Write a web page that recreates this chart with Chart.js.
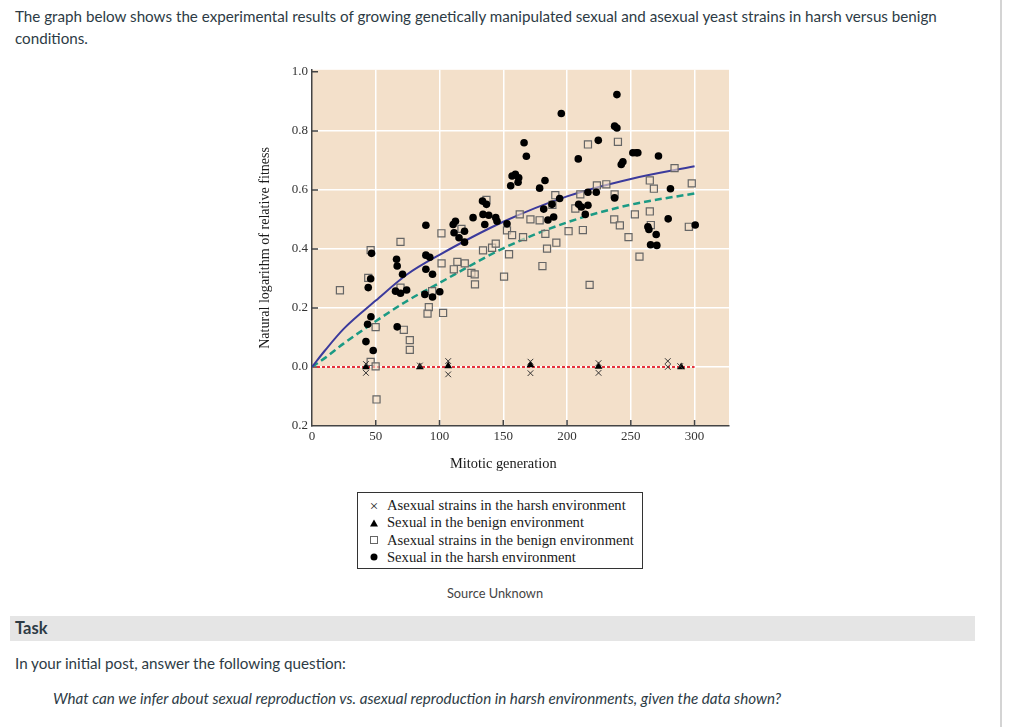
<!DOCTYPE html>
<html>
<head>
<meta charset="utf-8">
<script src="https://cdn.jsdelivr.net/npm/chart.js@4.4.0/dist/chart.umd.min.js"></script>
<style>
  body{margin:0;width:1024px;height:727px;overflow:hidden;background:#fff;font-family:Lato,sans-serif;color:#2d3b45;position:relative}
  .intro{position:absolute;left:15px;top:5px;font-size:15.2px;line-height:22px}
  #wrap{position:absolute;left:250px;top:58px;width:490px;height:420px}
  #legend{position:absolute;left:357px;top:492px;width:284px;height:75px;border:1px solid #333;font-family:'Liberation Serif',serif;font-size:14.6px;color:#1a1a1a}
  #legend .row{position:absolute;left:0;height:17px;line-height:17px;white-space:nowrap}
  #legend .sym{position:absolute;left:16px;top:50%;transform:translate(-50%,-50%)}
  #legend .txt{position:absolute;left:29px;top:0}
  .s-cross{font-size:15px;line-height:15px;color:#222}
  .s-tri{width:0;height:0;border-left:4px solid transparent;border-right:4px solid transparent;border-bottom:7px solid #000}
  .s-rect{width:6px;height:6px;border:1px solid #666}
  .s-dot{width:7px;height:7px;border-radius:50%;background:#000}
  .source{position:absolute;left:395px;top:585px;width:200px;text-align:center;font-size:12.8px;color:#444}
  .task{position:absolute;left:10px;top:616px;width:965px;height:25px;background:#e5e5e5;font-weight:bold;font-size:16.5px;line-height:25px;padding-left:5px;box-sizing:border-box;color:#2d3b45}
  .q1{position:absolute;left:15px;top:654px;font-size:15.2px}
  .q2{position:absolute;left:53px;top:689px;font-size:15.2px;font-style:italic}
  .edge{position:absolute;left:1000px;top:0;width:2px;height:727px;background:#d4d4d4}
</style>
</head>
<body>
<div class="intro">The graph below shows the experimental results of growing genetically manipulated sexual and asexual yeast strains in harsh versus benign<br>conditions.</div>
<div id="wrap"><canvas id="chart" width="490" height="420"></canvas></div>
<div id="legend"></div>
<div class="source">Source Unknown</div>
<div class="task">Task</div>
<div class="q1">In your initial post, answer the following question:</div>
<div class="q2">What can we infer about sexual reproduction vs. asexual reproduction in harsh environments, given the data shown?</div>
<div class="edge"></div>
<script>
// axis ticks
const xTicks = [0, 50, 100, 150, 200, 250, 300];
const yTicks = [-0.2, 0, 0.2, 0.4, 0.6, 0.8, 1.0];
const yTickLabels = ['0.2', '0.0', '0.2', '0.4', '0.6', '0.8', '1.0'];
const xTitle = 'Mitotic generation';
const yTitle = 'Natural logarithm of relative fitness';

// legend entries (order as in the box)
const legendLabels = [
  'Asexual strains in the harsh environment',
  'Sexual in the benign environment',
  'Asexual strains in the benign environment',
  'Sexual in the harsh environment'
];
const legendSymbols = ['cross', 'tri', 'rect', 'dot'];

// [generation, ln fitness]
const sexualHarsh = [
  [46.7,0.385],[46,0.299],[44.1,0.269],[46.2,0.17],[43.6,0.145],[42.3,0.086],[48,0.056],
  [66.3,0.365],[66.8,0.342],[71,0.314],[65.5,0.257],[69.4,0.25],[74.2,0.261],[66.8,0.136],
  [89.3,0.379],[92.4,0.372],[89.3,0.331],[94.5,0.314],[88.5,0.246],[94.5,0.237],[100.2,0.255],
  [89.3,0.48],
  [110.7,0.483],[112.5,0.494],[111.4,0.455],[115.3,0.438],[119.6,0.46],[119.6,0.423],
  [126.3,0.506],[134.1,0.517],[138.6,0.514],[135.5,0.483],[144.1,0.506],[145.1,0.494],
  [133.7,0.562],[136.8,0.551],[152.9,0.485],
  [156.9,0.647],[159.5,0.653],[162.1,0.641],[155.8,0.614],[161.6,0.626],
  [166.3,0.76],[168.1,0.714],
  [178.5,0.606],[182.7,0.632],[181.7,0.535],[188.2,0.551],[185,0.498],[189.5,0.508],[194.2,0.571],
  [195.5,0.859],
  [208.8,0.705],[224.5,0.768],
  [209.1,0.551],[211.2,0.542],[216.4,0.548],[216.4,0.592],[222.9,0.592],[214.3,0.517],
  [239.1,0.923],[237.3,0.816],[239.1,0.81],
  [251.6,0.726],[254.3,0.726],[255.5,0.726],[271.7,0.715],
  [242.5,0.686],[243.8,0.695],
  [237.3,0.573],[281.1,0.604],[279.3,0.502],[263.4,0.475],[264.2,0.466],[269.9,0.449],
  [265.5,0.414],[270.4,0.412],[300.5,0.481]
];
const asexualBenign = [
  [21.9,0.26],[46,0.396],[44.1,0.302],[46,0.017],[49.9,0.002],[49.9,0.135],[50.6,-0.11],
  [69.4,0.424],[69.4,0.269],[72,0.126],[76.7,0.091],[76.7,0.058],
  [101.5,0.453],[101.6,0.351],[94.2,0.257],[91.6,0.203],[90.6,0.181],[102.8,0.183],
  [114,0.356],[119.8,0.351],[111.2,0.331],[117.2,0.468],[125,0.319],[127.6,0.314],[127.8,0.28],
  [136.8,0.566],[134.1,0.395],[141.2,0.404],[144.1,0.418],
  [152.9,0.463],[156.9,0.447],[154.5,0.382],[150.6,0.306],[162.9,0.517],[165.5,0.44],
  [171.3,0.5],[178.5,0.497],[183,0.451],[184.3,0.401],[180.7,0.342],[191.6,0.421],[188.5,0.549],[190.8,0.582],
  [201.2,0.46],[212.4,0.464],[206.5,0.537],[210.4,0.585],[217.7,0.278],[216.4,0.754],
  [223.4,0.615],[230.8,0.619],[239.9,0.763],
  [237.3,0.585],[237,0.5],[241.4,0.48],[248.2,0.44],[253.2,0.517],[256.8,0.374],
  [264.9,0.632],[268.1,0.604],[264.9,0.527],[265.7,0.481],
  [284.3,0.674],[297.8,0.622],[295.5,0.475]
];
const sexualBenign = [[42.3,0],[84.6,0],[106.8,0.003],[171.3,0.007],[224.7,0.002],[289.5,0]];
const asexualHarsh = [
  [42.3,0.01],[42.3,-0.02],[84.6,0.005],[106.8,0.02],[106.8,-0.025],[171.3,0.018],[171.3,-0.021],
  [224.7,0.013],[224.7,-0.02],[279,0.02],[279,0.0],[288.7,0.003]
];

// fitted curves
const fitGen = [0, 10, 25, 50, 75, 100, 150, 200, 250, 300];
const sexualFit = [0, 0.055, 0.13, 0.225, 0.315, 0.38, 0.492, 0.578, 0.637, 0.68];
const asexualFit = [0, 0.03, 0.08, 0.155, 0.225, 0.285, 0.402, 0.49, 0.55, 0.588];
const baseGen = [0, 300];
const baseFit = [0, 0];

const pts = arr => arr.map(([x, y]) => ({x, y}));
const line = (xs, ys) => xs.map((x, i) => ({x, y: ys[i]}));

const serif = 'Liberation Serif';

// beige panel behind the grid
const panelBg = {
  id: 'panelBg',
  beforeDraw(chart){
    const {ctx, chartArea: a} = chart;
    ctx.save();
    ctx.fillStyle = '#f3e0ca';
    ctx.fillRect(a.left, a.top, a.right - a.left, a.bottom - a.top);
    ctx.restore();
  }
};
// short tick marks pointing into the plot
const innerTicks = {
  id: 'innerTicks',
  beforeDatasetsDraw(chart){
    const {ctx, chartArea: a, scales: {x, y}} = chart;
    ctx.save();
    ctx.strokeStyle = '#444';
    ctx.lineWidth = 1.5;
    ctx.beginPath();
    yTicks.slice(1).forEach(v => { const p = y.getPixelForValue(v); ctx.moveTo(a.left, p); ctx.lineTo(a.left + 6, p); });
    xTicks.slice(1).forEach(v => { const p = x.getPixelForValue(v); ctx.moveTo(p, a.bottom); ctx.lineTo(p, a.bottom - 6); });
    ctx.stroke();
    ctx.restore();
  }
};
// x title sits under the 0-300 span, not the whole panel
const xTitlePlugin = {
  id: 'xTitle',
  afterDraw(chart){
    const {ctx, chartArea: a, scales: {x}} = chart;
    ctx.save();
    ctx.font = '14.4px "Liberation Serif"';
    ctx.fillStyle = '#1a1a1a';
    ctx.textAlign = 'center';
    ctx.textBaseline = 'middle';
    ctx.fillText(xTitle, x.getPixelForValue(150), a.bottom + 38);
    ctx.restore();
  }
};

new Chart(document.getElementById('chart'), {
  type: 'scatter',
  data: {
    datasets: [
      { label: legendLabels[0], data: pts(asexualHarsh), pointStyle: 'crossRot', pointRadius: 4, borderColor: '#333', borderWidth: 1, backgroundColor: '#333', order: 1 },
      { label: legendLabels[1], data: pts(sexualBenign), pointStyle: 'triangle', pointRadius: 4.5, backgroundColor: '#000', borderColor: '#000', borderWidth: 0, order: 2 },
      { label: legendLabels[3], data: pts(sexualHarsh), pointStyle: 'circle', pointRadius: 3.8, backgroundColor: '#000', borderColor: '#000', borderWidth: 0, order: 3 },
      { label: legendLabels[2], data: pts(asexualBenign), pointStyle: 'rect', pointRadius: 5, backgroundColor: 'rgba(243,224,202,0.6)', borderColor: '#666', borderWidth: 1.2, order: 4 },
      { label: 'sexual fit', data: line(fitGen, sexualFit), showLine: true, pointRadius: 0, borderColor: '#3b3a9c', borderWidth: 2, cubicInterpolationMode: 'monotone', order: 5 },
      { label: 'asexual fit', data: line(fitGen, asexualFit), showLine: true, pointRadius: 0, borderColor: '#1b9a84', borderWidth: 2.5, borderDash: [7, 4], cubicInterpolationMode: 'monotone', order: 6 },
      { label: 'baseline', data: line(baseGen, baseFit), showLine: true, pointRadius: 0, borderColor: '#e5323d', borderWidth: 2, borderDash: [3, 2], order: 7 }
    ]
  },
  options: {
    responsive: false,
    animation: false,
    layout: { padding: { top: 10, right: 11, left: 0, bottom: 0 } },
    plugins: { legend: { display: false }, tooltip: { enabled: false } },
    scales: {
      x: {
        type: 'linear', min: 0, max: 327,
        afterBuildTicks: s => { s.ticks = xTicks.map(v => ({value: v})); },
        afterFit: s => { s.height = 52; },
        grid: { color: c => (c.tick && c.tick.value === 0) ? 'rgba(0,0,0,0)' : '#ffffff', lineWidth: 1.5, drawTicks: false },
        border: { color: '#444', width: 1.5 },
        ticks: { font: { family: serif, size: 13 }, color: '#333', padding: 3, maxRotation: 0 },
        title: { display: false }
      },
      y: {
        type: 'linear', min: -0.2, max: 1.007,
        afterBuildTicks: s => { s.ticks = yTicks.map(v => ({value: v})); },
        afterFit: s => { s.width = 62; },
        grid: { color: c => (c.index === 0 || c.index === yTicks.length - 1) ? 'rgba(0,0,0,0)' : '#ffffff', lineWidth: 1.5, drawTicks: false },
        border: { color: '#444', width: 1.5 },
        ticks: { font: { family: serif, size: 13 }, color: '#333', padding: 4, callback: (v, i) => yTickLabels[i] },
        title: { display: true, text: yTitle, font: { family: serif, size: 14.1 }, color: '#1a1a1a', padding: { top: 7, bottom: 0 } }
      }
    }
  },
  plugins: [panelBg, innerTicks, xTitlePlugin]
});

// boxed legend under the plot
const legendEl = document.getElementById('legend');
legendLabels.forEach((txt, i) => {
  const row = document.createElement('div');
  row.className = 'row';
  row.style.top = (4 + i * 17.3) + 'px';
  const sym = document.createElement('div');
  sym.className = 'sym s-' + legendSymbols[i];
  if (legendSymbols[i] === 'cross') sym.textContent = '×';
  const t = document.createElement('span');
  t.className = 'txt';
  t.textContent = txt;
  row.appendChild(sym); row.appendChild(t);
  legendEl.appendChild(row);
});
</script>
</body>
</html>
